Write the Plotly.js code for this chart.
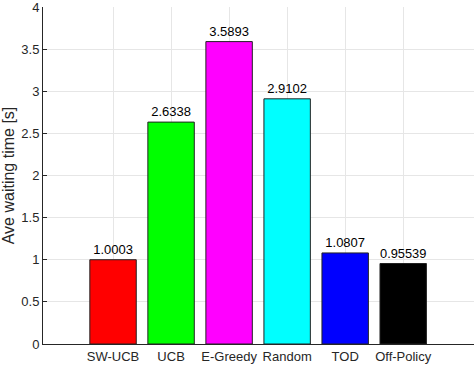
<!DOCTYPE html>
<html>
<head>
<meta charset="utf-8">
<script src="https://cdn.plot.ly/plotly-3.0.1.min.js"></script>
<style>html,body{margin:0;padding:0;background:#fff;}#chart{width:474px;height:368px;}</style>
</head>
<body>
<div id="chart"></div>
<script>
var categories = ["SW-UCB", "UCB", "E-Greedy", "Random", "TOD", "Off-Policy"];
var values = [1.0003, 2.6338, 3.5893, 2.9102, 1.0807, 0.95539];
var labels = ["1.0003", "2.6338", "3.5893", "2.9102", "1.0807", "0.95539"];
var colors = ["#ff0000", "#00ff00", "#ff00ff", "#00ffff", "#0000ff", "#000000"];
var positions = categories.map(function(c, i){ return i + 1; });

var trace = {
  type: "bar",
  x: positions,
  y: values,
  width: 0.8,
  text: labels,
  textposition: "outside",
  cliponaxis: false,
  textfont: {family: "Liberation Sans, Arial, sans-serif", size: 13, color: "#000"},
  marker: {color: colors, line: {color: "#222", width: 1}},
  hoverinfo: "none"
};

var layout = {
  width: 474, height: 368,
  margin: {l: 43, r: 0, t: 7, b: 24},
  paper_bgcolor: "#fff", plot_bgcolor: "#fff",
  showlegend: false,
  font: {family: "Liberation Sans, Arial, sans-serif", size: 13, color: "#262626"},
  xaxis: {
    range: [-0.207, 7.22],
    tickvals: positions,
    ticktext: categories,
    showgrid: true, gridcolor: "#e6e6e6", gridwidth: 1,
    zeroline: false,
    showline: true, linecolor: "#262626", linewidth: 1,
    ticks: "", ticklen: 0,
    tickfont: {size: 13, color: "#262626"}
  },
  yaxis: {
    range: [0, 4],
    dtick: 0.5,
    ticklabeloverflow: "allow",
    showgrid: true, gridcolor: "#e6e6e6", gridwidth: 1,
    zeroline: false,
    showline: true, linecolor: "#262626", linewidth: 1,
    ticks: "inside", ticklen: 4, tickcolor: "#262626",
    tickfont: {size: 13, color: "#262626"},
    title: {text: "Ave waiting time [s]", font: {size: 16, color: "#262626"}, standoff: 6}
  },
  bargap: 0.2
};

Plotly.newPlot("chart", [trace], layout, {displayModeBar: false, staticPlot: true});
</script>
</body>
</html>
